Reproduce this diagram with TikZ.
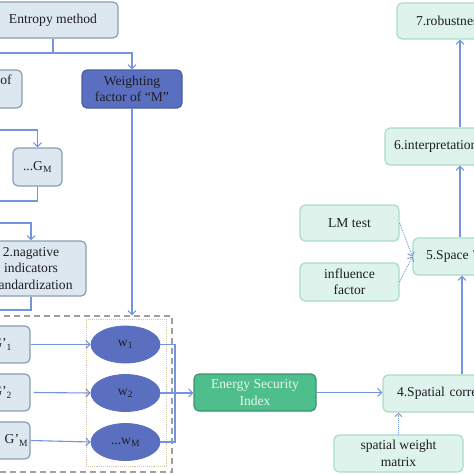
\documentclass[tikz,border=0pt]{standalone}
\usepackage{fontspec}
\setmainfont{Liberation Serif}
\usetikzlibrary{arrows.meta,shapes.geometric}
\definecolor{bfill}{RGB}{221,231,240}
\definecolor{bborder}{RGB}{140,156,178}
\definecolor{dfill}{RGB}{90,111,192}
\definecolor{dborder}{RGB}{72,92,172}
\definecolor{efill}{RGB}{78,190,140}
\definecolor{eborder}{RGB}{58,150,110}
\definecolor{etext}{RGB}{232,245,238}
\definecolor{mfill}{RGB}{221,243,235}
\definecolor{mborder}{RGB}{170,221,200}
\definecolor{arrc}{RGB}{116,148,222}
\definecolor{txt}{RGB}{30,30,38}
\definecolor{tan}{RGB}{214,196,165}
\tikzset{
  base/.style={rounded corners=5pt, line width=1.2pt, inner sep=0pt, align=center, text=txt,
    font=\fontsize{13.6}{16.5}\selectfont},
  bluebox/.style={base, draw=bborder, fill=bfill},
  darkbox/.style={base, draw=dborder, fill=dfill},
  greenbox/.style={base, draw=eborder, fill=efill, text=etext},
  mintbox/.style={base, draw=mborder, fill=mfill},
  wellipse/.style={ellipse, draw=dfill, fill=dfill, line width=0.8pt, inner sep=0pt, text=txt,
    font=\fontsize{13.6}{16.5}\selectfont, minimum width=69pt, minimum height=37pt},
  ln/.style={draw=arrc, line width=1.1pt},
  arr/.style={ln, -{Straight Barb[length=4pt,width=8pt]}},
  dotarr/.style={draw=arrc, line width=0.9pt, densely dotted, -{Straight Barb[length=3.5pt,width=7pt]}},
  outerbox/.style={draw=gray!75, line width=1.2pt, dash pattern=on 6pt off 4pt},
  innerbox/.style={draw=tan, line width=0.9pt, densely dotted}
}
\begin{document}
\begin{tikzpicture}[x=1pt,y=-1pt]
\useasboundingbox (0,0) rectangle (474,474);
\fill[white] (0,0) rectangle (474,474);
\clip (0,0) rectangle (474,474);

% left column
\node[bluebox, minimum width=130pt, minimum height=36pt] (ent) at (53,20) {Entropy method};
\node[bluebox, minimum width=98pt, minimum height=38pt] (ofb) at (-27,89) {Calculation of\\weights};
\node[darkbox, minimum width=100pt, minimum height=38pt] (wf) at (132,89) {Weighting\\factor of “M”};
\node[bluebox, minimum width=49pt, minimum height=38pt] (gm) at (37.5,167) {...G\textsubscript{M}};
\node[bluebox, minimum width=110pt, minimum height=55pt] (neg) at (31,268.5) {2.nagative\\indicators\\standardization};

% dashed frames
\node[outerbox, minimum width=192pt, minimum height=156pt] (outer) at (76,394) {};
\node[innerbox, minimum width=80pt, minimum height=147pt] (inner) at (126,392.5) {};

\node[bluebox, minimum width=70pt, minimum height=37pt, text width=34pt, inner xsep=18pt, align=right] (g1) at (-5,344.5) {G’\textsubscript{1}};
\node[bluebox, minimum width=70pt, minimum height=37pt, text width=34pt, inner xsep=18pt, align=right] (g2) at (-5,392.5) {G’\textsubscript{2}};
\node[bluebox, minimum width=70pt, minimum height=37pt, text width=66pt, inner xsep=2pt, align=right] (gM) at (-5,440.5) {G’\textsubscript{M}};

\node[wellipse] (w1) at (125.5,344.5) {w\textsubscript{1}};
\node[wellipse] (w2) at (125.5,393) {w\textsubscript{2}};
\node[wellipse] (wM) at (125.5,442) {...w\textsubscript{M}};

\node[greenbox, minimum width=122pt, minimum height=37pt] (esi) at (255,392.5) {Energy Security\\Index};

% right column
\node[mintbox, minimum height=36pt, text width=100pt, inner xsep=19pt, align=left] (n7) at (466,21) {7.robustness test};
\node[mintbox, minimum height=37pt, text width=110pt, inner xsep=9pt, align=left] (n6) at (449,146.5) {6.interpretation};
\node[mintbox, minimum height=37pt, text width=100pt, inner xsep=13pt, align=left] (n5) at (476,256.5) {5.Space Test};
\node[mintbox, minimum height=37pt, text width=140pt, inner xsep=14pt, align=left] (n4) at (467,393.5) {4.Spatial correlation};
\node[mintbox, minimum width=99pt, minimum height=36pt] (lm) at (349.5,223) {LM test};
\node[mintbox, minimum width=99pt, minimum height=38pt] (inf) at (349.5,282) {influence\\factor};
\node[mintbox, minimum width=129pt, minimum height=37pt] (sw) at (398.5,453.5) {spatial weight\\matrix};

% helper coordinates
\coordinate (j1) at (53,53);
\coordinate (e1) at (-10,53);
\coordinate (e2) at (-10,130);
\coordinate (e3) at (-10,201);
\coordinate (e4) at (-10,223);
\coordinate (e5) at (-10,310);
\coordinate (bus) at (175,0);
\coordinate (c460) at (460,0);
\coordinate (c462) at (462,0);

% connectors
\draw[ln] (ent.south) -- (j1);
\draw[arr] (e1) -| (wf.north);
\draw[arr] (e2) -| (gm.north);
\draw[ln] (gm.south) |- (e3);
\draw[arr] (e4) -| (neg.north);
\draw[ln] (neg.south) |- (e5);
\draw[arr] (wf.south) -- (wf.south |- outer.north);
\draw[arr] (g1.east) -- (w1.west);
\draw[arr] ([xshift=3pt]g2.east) -- (w2.west);
\draw[arr] (gM.east) -- (wM.west);
\draw[ln] (w1.east) -- (w1.east -| bus) -- (wM.east -| bus) -- (wM.east);
\draw[arr] (w2.east) -- (w2.east -| esi.west);
\draw[arr] (esi.east) -- (esi.east -| n4.west);
\draw[dotarr] (sw.north) -- (sw.north |- n4.south);
\draw[arr] (n4.north -| c462) -- (n5.south -| c462);
\draw[arr] (n5.north -| c460) -- (n6.south -| c460);
\draw[arr] (n6.north -| c460) -- (n7.south -| c460);
\draw[dotarr] (lm.east) -- (n5.west);
\draw[dotarr] (inf.east) -- (n5.west);
\end{tikzpicture}
\end{document}
